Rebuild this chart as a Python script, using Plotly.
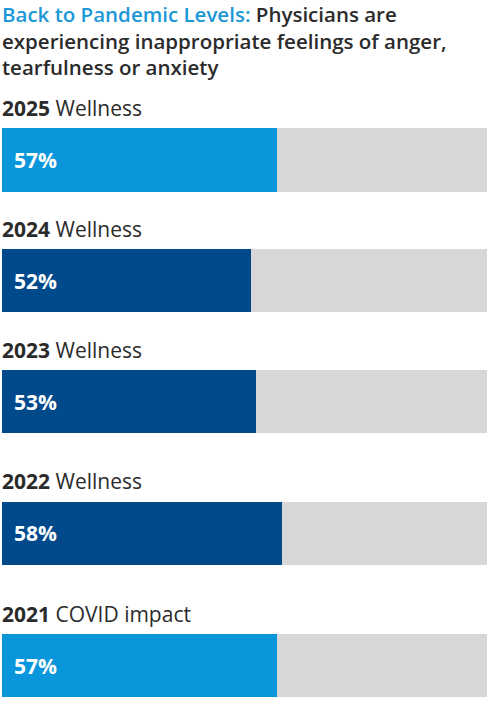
import plotly.graph_objects as go

# ---- data ----
years = ["2025", "2024", "2023", "2022", "2021"]
suffixes = ["Wellness", "Wellness", "Wellness", "Wellness", "COVID impact"]
values = [57, 52, 53, 58, 57]
totals = [100, 100, 100, 100, 100]
title_lines = [
    "<span style='color:#1B98D5'>Back to Pandemic Levels:</span> Physicians are",
    "experiencing inappropriate feelings of anger,",
    "tearfulness or anxiety",
]

# ---- layout constants (pixel-like vertical positions) ----
W, H = 487, 704
bar_centers = [160, 280.7, 401.7, 533.3, 665.5]
bar_height = 63.5
label_offset = 52  # label center above bar center
colors = ["#0A96DA", "#004A8B", "#004A8B", "#004A8B", "#0A96DA"]
gray = "#D8D6D7"
font_family = "'Open Sans', Lato, sans-serif"

fig = go.Figure()
fig.add_trace(go.Bar(
    x=totals, y=bar_centers, orientation="h", width=bar_height,
    marker=dict(color=gray, line=dict(width=0)), hoverinfo="skip", showlegend=False,
))
fig.add_trace(go.Bar(
    x=values, y=bar_centers, orientation="h", width=bar_height,
    marker=dict(color=colors, line=dict(width=0)), showlegend=False,
))

annotations = []
for yr, suf, v, yc in zip(years, suffixes, values, bar_centers):
    annotations.append(dict(
        x=0, xref="paper", y=yc - label_offset, yref="y",
        text=f"<b>{yr}</b> {suf}", showarrow=False,
        xanchor="left", yanchor="middle",
        font=dict(family=font_family, size=21, color="#2B2B2B"),
    ))
    annotations.append(dict(
        x=0, xref="paper", y=yc, yref="y", xshift=12,
        text=f"<b>{v}%</b>", showarrow=False,
        xanchor="left", yanchor="middle",
        font=dict(family=font_family, size=21, color="white"),
    ))

annotations.append(dict(
    x=0, xref="paper", y=1, yref="paper", yshift=2, text="<br>".join(title_lines),
    showarrow=False, xanchor="left", yanchor="top", align="left",
    font=dict(family=font_family, size=20.5, color="#2B2B2B", weight=600),
))

fig.update_layout(
    width=W, height=H,
    margin=dict(l=0, r=0, t=0, b=0),
    paper_bgcolor="white", plot_bgcolor="white",
    barmode="overlay", bargap=0,
    xaxis=dict(domain=[2 / W, 1], range=[3.8, 97.6], visible=False, fixedrange=True),
    yaxis=dict(range=[H, 0], visible=False, fixedrange=True),
    annotations=annotations,
)

fig.write_html("out.html")
